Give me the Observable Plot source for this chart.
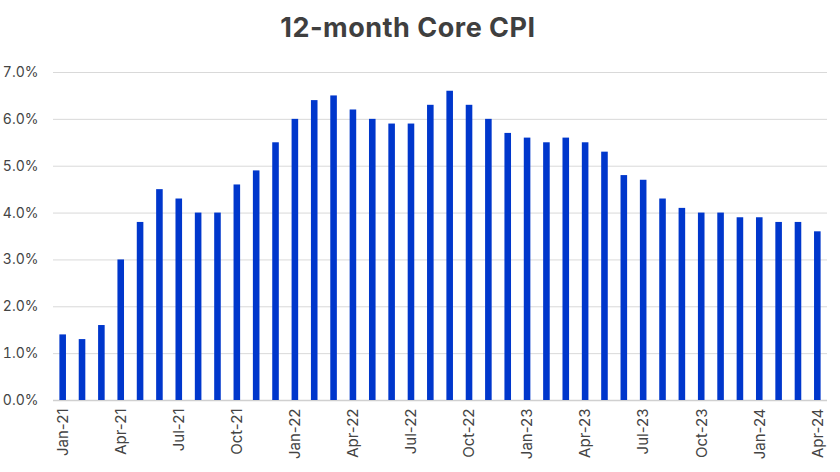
<!DOCTYPE html>
<html>
<head>
<meta charset="utf-8">
<script src="https://cdn.jsdelivr.net/npm/d3@7"></script>
<script src="https://cdn.jsdelivr.net/npm/@observablehq/plot@0.6"></script>
<style>
  body { margin: 0; background: #fff; font-family: Inter, "Noto Sans", sans-serif; }
  #title { height: 56px; line-height: 56px; text-align: center; font-size: 27px; font-weight: 700; color: #3f3f3f; letter-spacing: 0.5px; padding-right: 24px; }
</style>
</head>
<body>
<div id="title">12-month Core CPI</div>
<div id="chart"></div>
<script>
const months = ["Jan-21","Feb-21","Mar-21","Apr-21","May-21","Jun-21","Jul-21","Aug-21","Sep-21","Oct-21","Nov-21","Dec-21",
  "Jan-22","Feb-22","Mar-22","Apr-22","May-22","Jun-22","Jul-22","Aug-22","Sep-22","Oct-22","Nov-22","Dec-22",
  "Jan-23","Feb-23","Mar-23","Apr-23","May-23","Jun-23","Jul-23","Aug-23","Sep-23","Oct-23","Nov-23","Dec-23",
  "Jan-24","Feb-24","Mar-24","Apr-24"];
const coreCPI = [1.4,1.3,1.6,3.0,3.8,4.5,4.3,4.0,4.0,4.6,4.9,5.5,
  6.0,6.4,6.5,6.2,6.0,5.9,5.9,6.3,6.6,6.3,6.0,5.7,
  5.6,5.5,5.6,5.5,5.3,4.8,4.7,4.3,4.1,4.0,4.0,3.9,
  3.9,3.8,3.8,3.6];
const xTickLabels = ["Jan-21","Apr-21","Jul-21","Oct-21","Jan-22","Apr-22","Jul-22","Oct-22","Jan-23","Apr-23","Jul-23","Oct-23","Jan-24","Apr-24"];
const yTicks = [0,1,2,3,4,5,6,7];

const data = months.map((m, i) => ({month: m, value: coreCPI[i]}));

const chart = Plot.plot({
  width: 840,
  height: 416,
  marginTop: 16,
  marginBottom: 72,
  marginLeft: 53,
  marginRight: 13,
  style: {fontFamily: "Inter, 'Noto Sans', sans-serif", fontSize: "14px", color: "#444"},
  x: {domain: months, paddingInner: 0.66, paddingOuter: 0.33, round: false},
  y: {domain: [0, 7]},
  marks: [
    Plot.gridY(yTicks, {stroke: "#d9d9d9", strokeOpacity: 1, strokeWidth: 1}),
    Plot.ruleY([0], {stroke: "#d0d0d0", strokeWidth: 1.5}),
    Plot.barY(data, {x: "month", y: "value", fill: "#0037cc"}),
    Plot.axisY(yTicks, {tickSize: 0, tickPadding: 15, tickFormat: d => d.toFixed(1) + "%", fontSize: 14, fill: "#444", label: null}),
    Plot.axisX(xTickLabels, {tickSize: 0, tickPadding: 8, tickRotate: -90, fontSize: 15, fill: "#444", label: null})
  ]
});
document.getElementById("chart").appendChild(chart);
</script>
</body>
</html>
